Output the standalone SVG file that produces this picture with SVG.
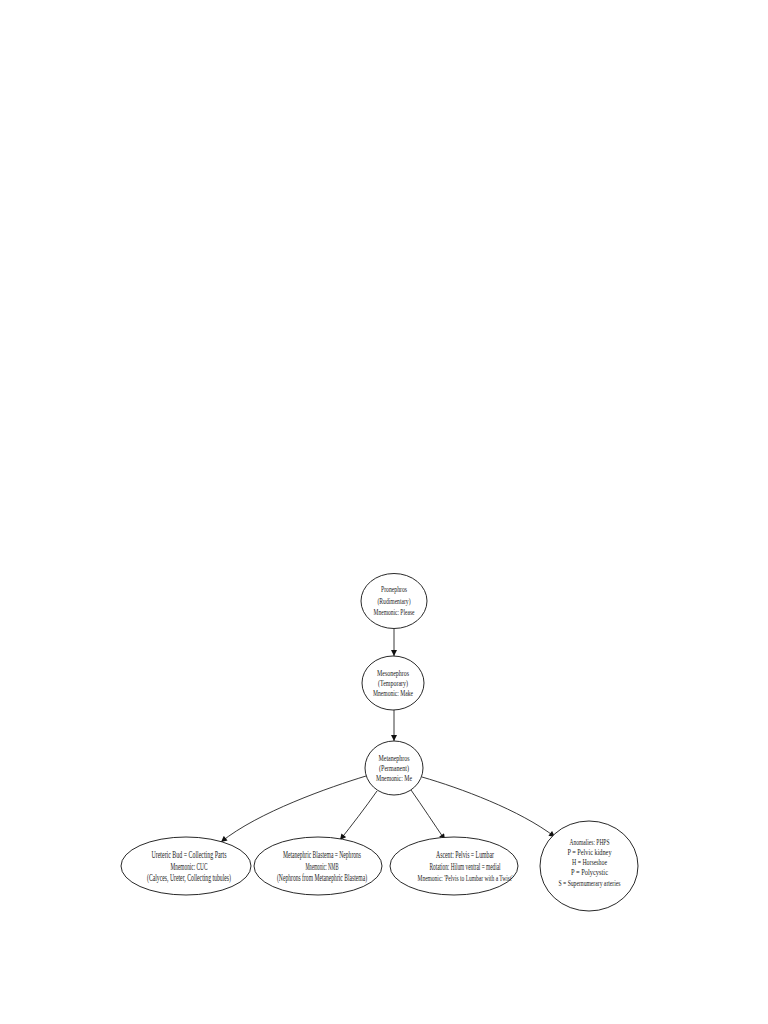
<svg xmlns="http://www.w3.org/2000/svg" width="768" height="1024" viewBox="0 0 768 1024">
<style>
.node ellipse{fill:#fff;stroke:#111;stroke-width:0.9}
text{font-family:"Liberation Serif","Times New Roman",serif;font-size:9.5px;fill:#222;text-anchor:middle}
#pronephros text,#mesonephros text,#metanephros text{font-size:8.8px}
#anomalies text{font-size:8px}
#ascent-rotation text.long{font-size:9px}
.edge{fill:none;stroke:#222;stroke-width:0.9}
</style>
<defs>
<marker id="arr" viewBox="0 0 10 10" refX="10" refY="5" markerWidth="7" markerHeight="6" markerUnits="userSpaceOnUse" orient="auto">
<path d="M0,0 L10,5 L0,10 z" fill="#111"/>
</marker>
</defs>
<rect width="768" height="1024" fill="#fff"/>
<g id="connectors">
<path class="edge" d="M394,629 L394,656" marker-end="url(#arr)"/>
<path class="edge" d="M394,710 L394,741" marker-end="url(#arr)"/>
<path class="edge" d="M366,776 C330,787 258,812 221,842" marker-end="url(#arr)"/>
<path class="edge" d="M377,791 C365,808 352,825 340,840" marker-end="url(#arr)"/>
<path class="edge" d="M411,790 C423,807 434,824 445,840" marker-end="url(#arr)"/>
<path class="edge" d="M422,777 C460,788 520,810 555,837" marker-end="url(#arr)"/>
</g>
<g id="pronephros" class="node">
<ellipse cx="394" cy="601" rx="33" ry="27.5"/>
<text x="394" y="592" textLength="26" lengthAdjust="spacingAndGlyphs">Pronephros</text>
<text x="394" y="604" textLength="33" lengthAdjust="spacingAndGlyphs">(Rudimentary)</text>
<text x="394" y="615" textLength="41" lengthAdjust="spacingAndGlyphs">Mnemonic: Please</text>
</g>
<g id="mesonephros" class="node">
<ellipse cx="393" cy="683" rx="31" ry="27"/>
<text x="393" y="676" textLength="32" lengthAdjust="spacingAndGlyphs">Mesonephros</text>
<text x="393" y="686" textLength="30" lengthAdjust="spacingAndGlyphs">(Temporary)</text>
<text x="393" y="696" textLength="40" lengthAdjust="spacingAndGlyphs">Mnemonic: Make</text>
</g>
<g id="metanephros" class="node">
<ellipse cx="394" cy="768" rx="29" ry="27"/>
<text x="394" y="761" textLength="31" lengthAdjust="spacingAndGlyphs">Metanephros</text>
<text x="394" y="771" textLength="30" lengthAdjust="spacingAndGlyphs">(Permanent)</text>
<text x="394" y="781" textLength="36" lengthAdjust="spacingAndGlyphs">Mnemonic: Me</text>
</g>
<g id="ureteric-bud" class="node">
<ellipse cx="186" cy="866" rx="65" ry="29"/>
<text x="189" y="858" textLength="75" lengthAdjust="spacingAndGlyphs">Ureteric Bud = Collecting Parts</text>
<text x="189" y="870" textLength="37" lengthAdjust="spacingAndGlyphs">Mnemonic: CUC</text>
<text x="189" y="881" textLength="84" lengthAdjust="spacingAndGlyphs">(Calyces, Ureter, Collecting tubules)</text>
</g>
<g id="metanephric-blastema" class="node">
<ellipse cx="318" cy="866" rx="64" ry="29"/>
<text x="322" y="858" textLength="78" lengthAdjust="spacingAndGlyphs">Metanephric Blastema = Nephrons</text>
<text x="322" y="870" textLength="33" lengthAdjust="spacingAndGlyphs">Mnemonic: NMB</text>
<text x="322" y="881" textLength="90" lengthAdjust="spacingAndGlyphs">(Nephrons from Metanephric Blastema)</text>
</g>
<g id="ascent-rotation" class="node">
<ellipse cx="454" cy="866" rx="64" ry="29"/>
<text x="465" y="858" textLength="58" lengthAdjust="spacingAndGlyphs">Ascent: Pelvis = Lumbar</text>
<text x="465" y="870" textLength="71" lengthAdjust="spacingAndGlyphs">Rotation: Hilum ventral = medial</text>
<text class="long" x="465" y="881" textLength="95" lengthAdjust="spacingAndGlyphs">Mnemonic: 'Pelvis to Lumbar with a Twist'</text>
</g>
<g id="anomalies" class="node">
<ellipse cx="589" cy="866" rx="49" ry="45"/>
<text x="589.5" y="845" textLength="40" lengthAdjust="spacingAndGlyphs">Anomalies: PHPS</text>
<text x="589.5" y="855" textLength="44" lengthAdjust="spacingAndGlyphs">P = Pelvic kidney</text>
<text x="589.5" y="865" textLength="35" lengthAdjust="spacingAndGlyphs">H = Horseshoe</text>
<text x="589.5" y="874.5" textLength="37" lengthAdjust="spacingAndGlyphs">P = Polycystic</text>
<text x="589.5" y="886" textLength="62" lengthAdjust="spacingAndGlyphs">S = Supernumerary arteries</text>
</g>
</svg>
